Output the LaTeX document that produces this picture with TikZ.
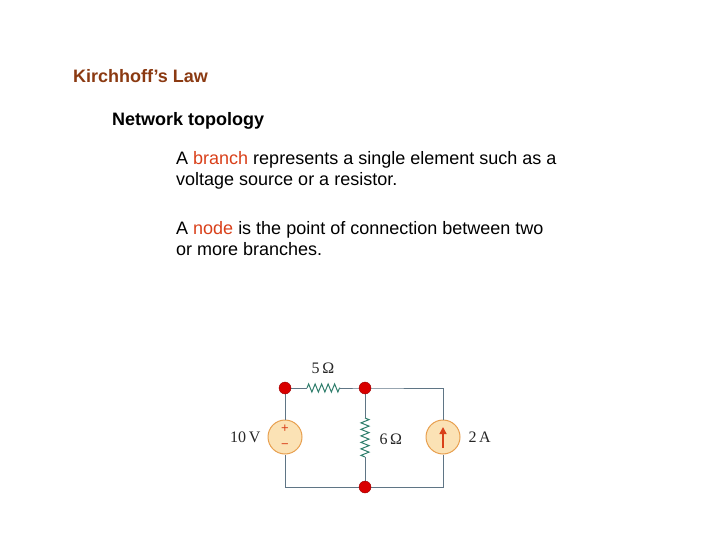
\documentclass[tikz,border=0pt]{standalone}
\usepackage{fontspec}
\setmainfont{Liberation Sans}
\newfontfamily\cirfont{Liberation Serif}
\usetikzlibrary{decorations.pathmorphing,arrows.meta}
\definecolor{wire}{HTML}{5F7585}
\definecolor{resc}{HTML}{2E7D6B}
\definecolor{srcfill}{HTML}{FBE2B5}
\definecolor{srcline}{HTML}{E8A050}
\definecolor{title}{HTML}{8B3A12}
\definecolor{hl}{HTML}{D9401A}
\tikzset{
 wr/.style={draw=wire,line width=1pt},
 res/.style={draw=resc,line width=1pt,decorate,decoration={zigzag,segment length=6.5pt,amplitude=4pt}},
 src/.style={circle,draw=srcline,fill=srcfill,line width=1pt,minimum size=34pt,inner sep=0pt},
 dot/.style={circle,fill=red!85!black,draw=red!60!black,minimum size=12pt,inner sep=0pt},
 lbl/.style={font=\cirfont\fontsize{16}{16}\selectfont,text=black!85},
 sgn/.style={text=hl,font=\fontsize{13}{13}\selectfont,inner sep=0pt},
 body/.style={anchor=north west,align=left,font=\fontsize{18}{21}\selectfont,inner sep=0pt}
}
\begin{document}
\begin{tikzpicture}[x=1pt,y=-1pt]
\useasboundingbox (0,0) rectangle (720,540);
\node[anchor=west,inner sep=0pt,text=title,font=\bfseries\fontsize{18}{18}\selectfont] (t) at (73,76) {Kirchhoff’s Law};
\node[anchor=west,inner sep=0pt,font=\bfseries\fontsize{18}{18}\selectfont] (s) at (112,121) {Network topology};
\node[body] (b1) at (176,151) {A \textcolor{hl}{branch} represents a single element such as a\\voltage source or a resistor.};
\node[body] (b2) at (176,221) {A \textcolor{hl}{node} is the point of connection between two\\or more branches.};
% circuit
\coordinate (TL) at (285,388); \coordinate (TM) at (365,388); \coordinate (TR) at (443,388);
\coordinate (BL) at (285,487); \coordinate (BM) at (365,487); \coordinate (BR) at (443,487);
\node[src] (vs) at (285,437) {};
\node[src] (cs) at (443,437) {};
\coordinate (r1a) at (307,388); \coordinate (r1b) at (340,388);
\coordinate (r2a) at (365,418); \coordinate (r2b) at (365,457);
\draw[wr] (TL) -- (r1a); \draw[wr] (r1b) -- (TM) -- (TR) -- (cs.north);
\draw[wr] (cs.south) -- (BR) -- (BL) -- (vs.south); \draw[wr] (vs.north) -- (TL);
\draw[wr] (TM) -- (r2a); \draw[wr] (r2b) -- (BM);
\draw[res] (r1a) -- (r1b);
\draw[res] (r2a) -- (r2b);
\node[sgn] (p) at (285,429) {+};
\node[sgn] (m) at (285,446) {−};
\draw[draw=hl,fill=hl,line width=1.5pt,-{Triangle[length=7pt,width=7pt]}] ([yshift=-11pt]cs.center) -- ([yshift=10pt]cs.center);
\node[dot] (n1) at (TL) {}; \node[dot] (n2) at (TM) {}; \node[dot] (n3) at (BM) {};
\node[lbl] (l5) at (323,368) {5\,Ω};
\node[lbl,anchor=east] (l10) at (264,437) {10\,V};
\node[lbl,anchor=west] (l6) at (376,439) {6\,Ω};
\node[lbl,anchor=west] (l2) at (465,437) {2\,A};
\end{tikzpicture}
\end{document}
